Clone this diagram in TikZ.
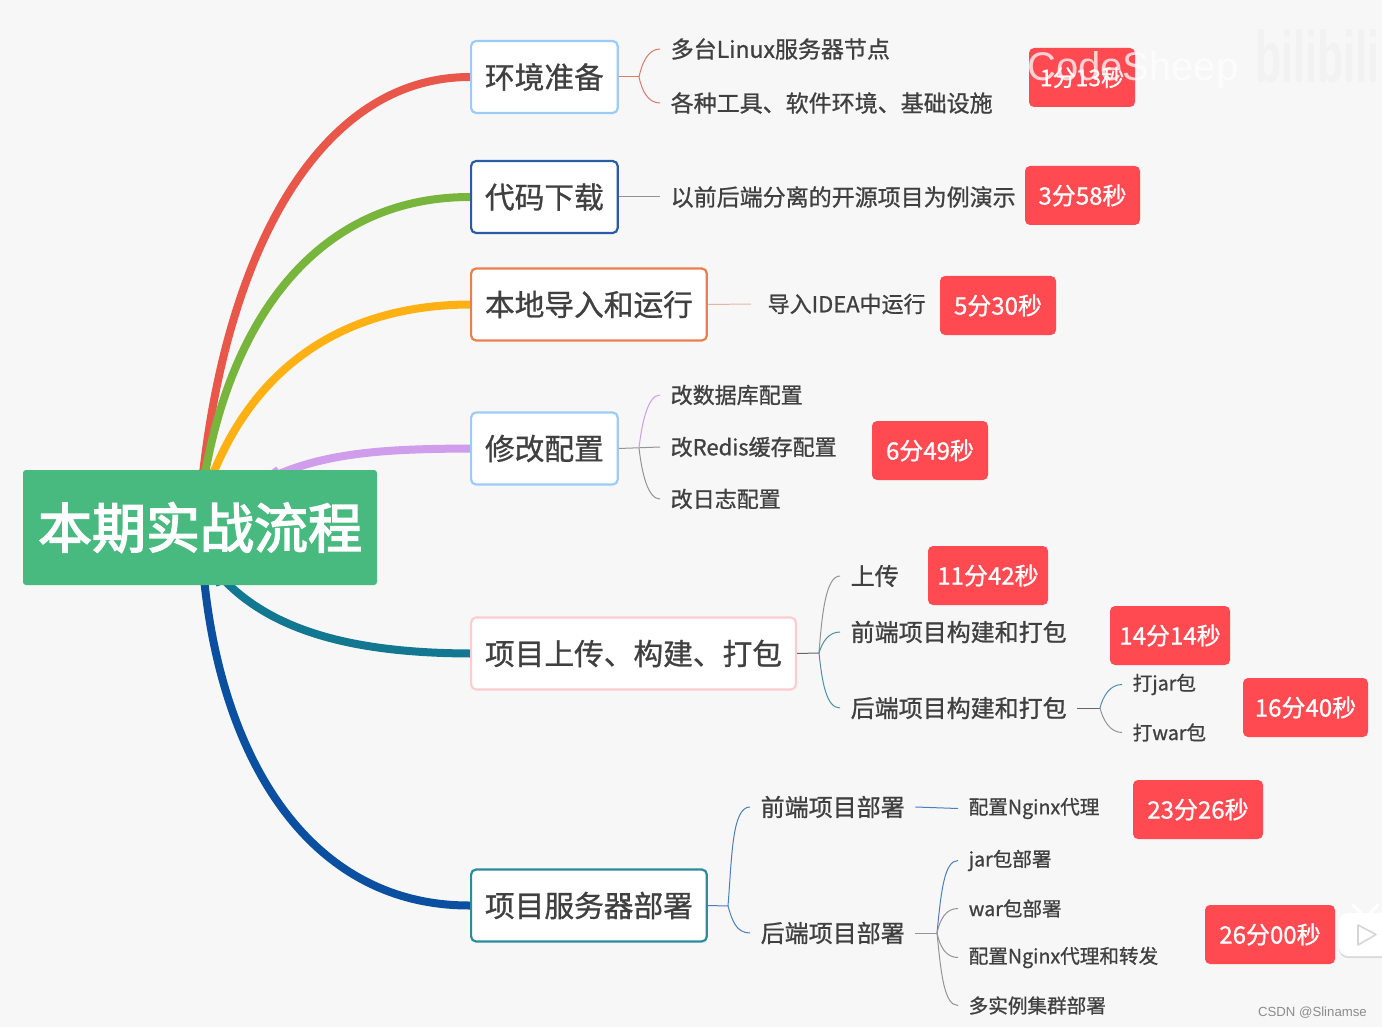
\documentclass[tikz,border=0pt]{standalone}
\usepackage{fontspec}
\setmainfont{Noto Sans CJK SC}[FakeBold=0.9]
\newfontfamily\rootfont{Noto Sans CJK SC}[FakeBold=2.8]
\newfontfamily\latinsans{Liberation Sans}
\usetikzlibrary{backgrounds}
\definecolor{bgcol}{HTML}{F7F7F8}
\definecolor{txtcol}{HTML}{404040}
\definecolor{rootcol}{HTML}{48B97F}
\definecolor{badgecol}{HTML}{FF4A52}
\definecolor{redline}{HTML}{E8574A}
\definecolor{greenline}{HTML}{78B53C}
\definecolor{orangeline}{HTML}{FFB114}
\definecolor{purpleline}{HTML}{CF9DEB}
\definecolor{tealline}{HTML}{127891}
\definecolor{blueline}{HTML}{0B50A0}
\definecolor{skyedge}{HTML}{9CCBF8}
\definecolor{navyedge}{HTML}{2A5CA5}
\definecolor{orangeedge}{HTML}{E8804E}
\definecolor{pinkedge}{HTML}{FBCDD0}
\definecolor{tealedge}{HTML}{2B8C9C}
\definecolor{twigred}{HTML}{DC7A70}
\definecolor{twigtan}{HTML}{E2B7A2}
\definecolor{twigteal}{HTML}{4E90A8}
\definecolor{twigblue}{HTML}{4E7DBE}
\begin{document}
\begin{tikzpicture}[x=1pt, y=-1pt]
        \tikzstyle{every node}=[text=txtcol, inner ysep=0pt]
        \tikzstyle{root}=[fill=rootcol, rounded corners=3pt, minimum width=354pt, minimum height=115pt, inner sep=0pt, text=white, font=\fontsize{54}{60}\rootfont]
        \tikzstyle{topic}=[anchor=west, draw, fill=white, line width=2.2pt, rounded corners=5pt, minimum height=72pt, inner xsep=13.9pt, font=\fontsize{29.7}{36}\selectfont]
        \tikzstyle{leaf}=[anchor=west, inner xsep=10.5pt, font=\fontsize{22}{26}\selectfont]
        \tikzstyle{big}=[leaf, font=\fontsize{23}{26}\selectfont]
        \tikzstyle{small}=[leaf, font=\fontsize{19.6}{24}\selectfont]
        \tikzstyle{sub}=[leaf, font=\fontsize{24}{28}\selectfont]
        \tikzstyle{badge}=[fill=badgecol, rounded corners=5pt, minimum height=59pt, inner xsep=0pt, text=white, font=\fontsize{24}{28}\selectfont]
        \tikzstyle{branch}=[line width=8pt, line join=round]
        \tikzstyle{twig}=[line width=1pt, color=black!42]
        \clip (0,0) rectangle (1382,1027);
        % central topic and main boxes
        \node [root] (root) at (200,527.5) {本期实战流程};
        \node [topic, draw=skyedge] (env) at (470,77) {环境准备};
        \node [topic, draw=navyedge] (code) at (470,197) {代码下载};
        \node [topic, draw=orangeedge] (local) at (470,304.5) {本地导入和运行};
        \node [topic, draw=skyedge] (conf) at (470,448.5) {修改配置};
        \node [topic, draw=pinkedge] (upload) at (470,653.5) {项目上传、构建、打包};
        \node [topic, draw=tealedge] (deploy) at (470,905.5) {项目服务器部署};
        % leaves
        \node [big] (env1) at (660,49) {多台Linux服务器节点};
        \node [big] (env2) at (660,103) {各种工具、软件环境、基础设施};
        \node [big] (code1) at (660,197) {以前后端分离的开源项目为例演示};
        \node [leaf, inner xsep=16.5pt] (local1) at (751,304) {导入IDEA中运行};
        \node [leaf] (conf1) at (660,395) {改数据库配置};
        \node [leaf] (conf2) at (660,447) {改Redis缓存配置};
        \node [leaf] (conf3) at (660,499) {改日志配置};
        \node [sub] (up1) at (840,576) {上传};
        \node [sub] (up2) at (840,632) {前端项目构建和打包};
        \node [sub] (up3) at (840,708) {后端项目构建和打包};
        \node [small] (jar) at (1122,684.5) {打jar包};
        \node [small] (war) at (1122,732.5) {打war包};
        \node [sub] (dep1) at (750,807) {前端项目部署};
        \node [sub] (dep2) at (750,933) {后端项目部署};
        \node [small] (nginx) at (958,808.5) {配置Nginx代理};
        \node [small] (dep21) at (958,860.5) {jar包部署};
        \node [small] (dep22) at (958,908.5) {war包部署};
        \node [small] (dep23) at (958,957.5) {配置Nginx代理和转发};
        \node [small] (dep24) at (958,1005.5) {多实例集群部署};
        % time badges
        \node [badge, minimum width=106pt, font=\fontsize{23}{28}\selectfont] (t1) at (1082,77.5) {1分13秒};
        \node [badge, minimum width=115pt] (t2) at (1082.5,195.5) {3分58秒};
        \node [badge, minimum width=116pt] (t3) at (998,305.5) {5分30秒};
        \node [badge, minimum width=116pt] (t4) at (930,450.5) {6分49秒};
        \node [badge, minimum width=120pt] (t5) at (988,575.5) {11分42秒};
        \node [badge, minimum width=120pt] (t6) at (1170,635.5) {14分14秒};
        \node [badge, minimum width=125pt] (t7) at (1305.5,707.5) {16分40秒};
        \node [badge, minimum width=130pt] (t8) at (1198,809.5) {23分26秒};
        \node [badge, minimum width=130pt] (t9) at (1270,934.5) {26分00秒};
        % junctions
        \coordinate (jenv) at (639,77);
        \coordinate (jconf) at (639,448);
        \coordinate (jup) at (819,653);
        \coordinate (jup3) at (1100,708);
        \coordinate (jdep) at (728,906);
        \coordinate (jdep2) at (937,933);
        % hidden ends of the branches, under the root
        \coordinate (sred) at (203,474);
        \coordinate (sgreen) at (205,474);
        \coordinate (sorange) at (213,474);
        \coordinate (spurple) at (262,482);
        \coordinate (steal) at (215,570);
        \coordinate (sblue) at (204,578);
        % thick branches under the boxes
        \begin{scope}[on background layer]
            \fill [bgcol] (0,0) rectangle (1382,1027);
            \draw [branch, redline] (root) -- (sred) .. controls (228,250) and (320,77) .. (env.west);
            \draw [branch, greenline] (root) -- (sgreen) .. controls (232,322) and (315,197) .. (code.west);
            \draw [branch, orangeline] (root) -- (sorange) .. controls (255,370) and (340,305) .. (local.west);
            \draw [branch, purpleline] (root) -- (spurple) .. controls (320,452) and (385,449) .. (conf.west);
            \draw [branch, tealline] (root) -- (steal) .. controls (265,630) and (350,653) .. (upload.west);
            \draw [branch, blueline] (root) -- (sblue) .. controls (222,760) and (310,906) .. (deploy.west);
        \end{scope}
        % thin connectors
        \draw [twig, twigred] (env.east) -- (jenv);
        \draw [twig, twigred] (jenv) .. controls +(3,-14) and +(-12,0) .. (env1.west);
        \draw [twig, twigred] (jenv) .. controls +(3,14) and +(-12,0) .. (env2.west);
        \draw [twig] (code.east) -- (code1.west);
        \draw [twig, twigtan] (local.east) -- (local1.west);
        \draw [twig] (conf.east) -- (conf2.west);
        \draw [twig, purpleline] (jconf) .. controls +(3,-26) and +(-12,0) .. (conf1.west);
        \draw [twig] (jconf) .. controls +(3,26) and +(-12,0) .. (conf3.west);
        \draw [twig] (jup) .. controls +(3,-40) and +(-14,0) .. (up1.west);
        \draw [twig, twigteal] (jup) .. controls +(3,-10) and +(-12,0) .. (up2.west);
        \draw [twig, twigteal] (jup) .. controls +(3,28) and +(-14,0) .. (up3.west);
        \draw [twig, black!60] (upload.east) -- (jup);
        \draw [twig, black!60] (up3.east) -- (jup3);
        \draw [twig, twigteal] (jup3) .. controls +(3,-12) and +(-12,0) .. (jar.west);
        \draw [twig] (jup3) .. controls +(3,12) and +(-12,0) .. (war.west);
        \draw [twig, twigblue] (jdep) .. controls +(4,-50) and +(-18,0) .. (dep1.west);
        \draw [twig, twigblue] (jdep) .. controls +(4,14) and +(-14,0) .. (dep2.west);
        \draw [twig, twigblue] (deploy.east) -- (jdep);
        \draw [twig, twigblue] (dep1.east) -- (nginx.west);
        \draw [twig, twigblue] (jdep2) .. controls +(4,-40) and +(-14,0) .. (dep21.west);
        \draw [twig] (jdep2) .. controls +(3,-14) and +(-12,0) .. (dep22.west);
        \draw [twig] (jdep2) .. controls +(3,14) and +(-12,0) .. (dep23.west);
        \draw [twig] (jdep2) .. controls +(4,40) and +(-14,0) .. (dep24.west);
        \draw [twig] (dep2.east) -- (jdep2);
        % overlays of the video
        \node [anchor=west, inner sep=0pt, text=white, opacity=0.75, font=\fontsize{40}{44}\latinsans] (mark) at (1027,70) {CodeSheep};
        \node [anchor=west, inner sep=0pt, text=black!5, transform shape, yscale=1.7, font=\fontsize{43}{46}\latinsans\bfseries] (bili) at (1255,56) {bilibili};
        \node [anchor=east, inner sep=0pt, text=black!45, font=\fontsize{13.2}{16}\latinsans] (csdn) at (1367,1013) {CSDN @Slinamse};
        % play icon
        \draw [white, line width=3pt, line cap=round] (1353,905) -- (1361,913);
        \draw [white, line width=3pt, line cap=round] (1378,905) -- (1370,913);
        \fill [black!14, rounded corners=9pt] (1339,915) rectangle (1400,958);
        \fill [white, rounded corners=9pt] (1339,913) rectangle (1400,956);
        \draw [black!16, fill=white, line width=1.6pt, line join=round] (1358,925) -- (1376,934.5) -- (1358,945) -- cycle;
\end{tikzpicture}
\end{document}
